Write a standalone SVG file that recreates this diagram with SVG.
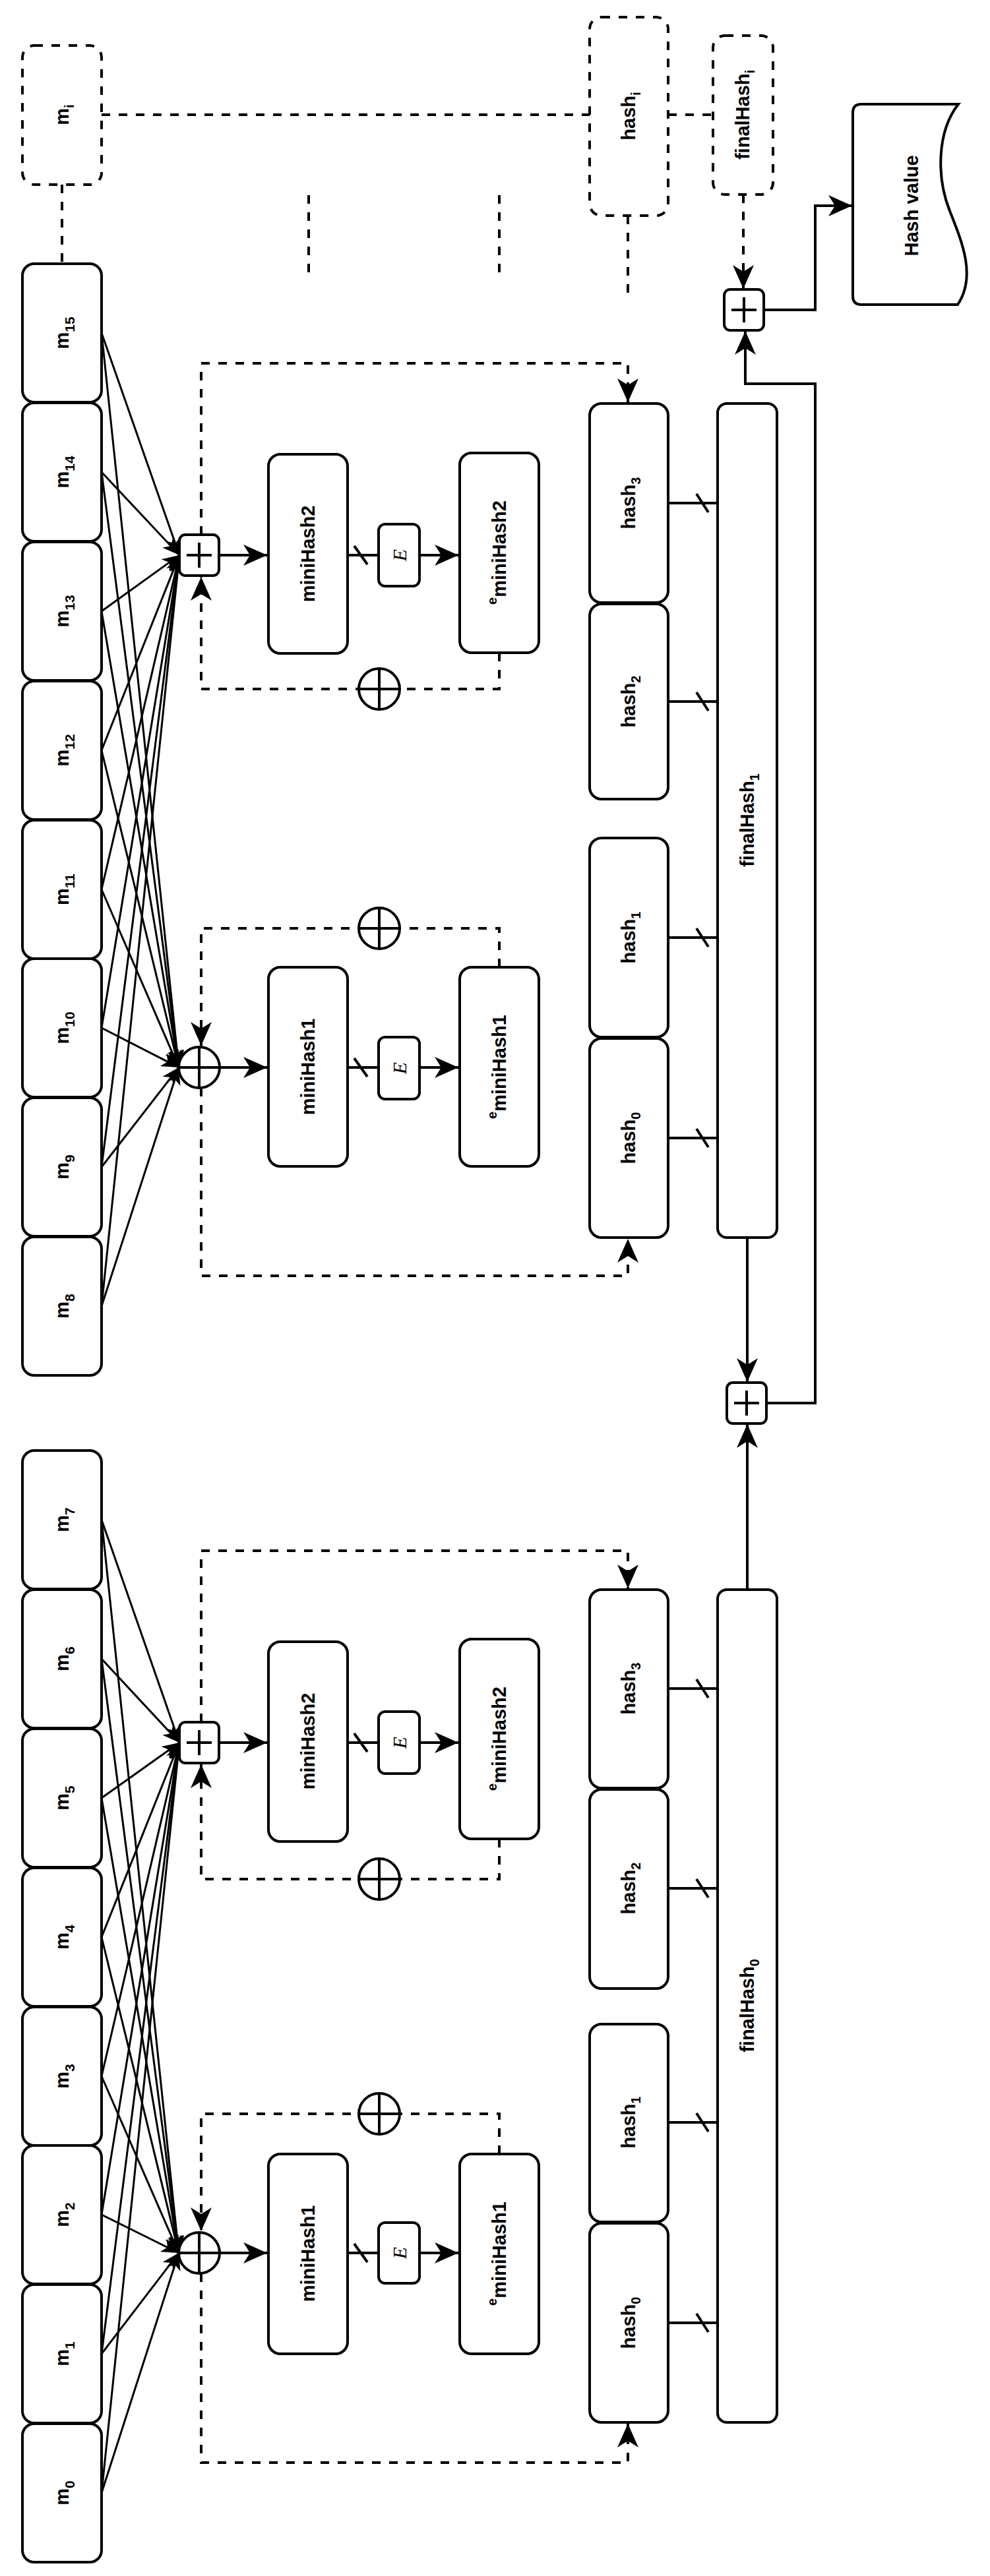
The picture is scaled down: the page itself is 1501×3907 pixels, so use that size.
<svg xmlns="http://www.w3.org/2000/svg" width="1501" height="3907" viewBox="0 0 1501 3907">
<style>
.b{fill:#fff;stroke:#000;stroke-width:4}
.d{fill:#fff;stroke:#000;stroke-width:4;stroke-dasharray:13 13}
.l{fill:none;stroke:#000;stroke-width:4}
.ld{fill:none;stroke:#000;stroke-width:4;stroke-dasharray:13 13}
.f{fill:none;stroke:#000;stroke-width:3}
.t{font-family:"Liberation Sans",Arial,sans-serif;font-weight:bold;font-size:29px;fill:#000}
.e{font-family:"Liberation Serif","Times New Roman",serif;font-style:italic;font-size:30px;fill:#000}
</style>
<defs>
<marker id="a" markerUnits="userSpaceOnUse" markerWidth="40" markerHeight="40" viewBox="-38 -20 40 40" refX="0" refY="0" orient="auto"><path d="M0,0 L-36,-16 L-26,0 L-36,16 Z" fill="#000"/></marker>
<marker id="s" markerUnits="userSpaceOnUse" markerWidth="30" markerHeight="30" viewBox="-28 -14 30 28" refX="0" refY="0" orient="auto"><path d="M0,0 L-26,-11 L-19,0 L-26,11 Z" fill="#000"/></marker>
<g id="plus"><rect x="-30" y="-31" width="60" height="62" rx="9" class="b"/><path d="M-19,0 H19 M0,-19 V19" class="l"/></g>
<g id="oplus"><circle r="31" class="b"/><path d="M-31,0 H31 M0,-31 V31" class="l"/></g>
</defs>

<g id="connectors">
<!-- fan-in upper -->
<g class="f" marker-end="url(#s)">
<path d="M154,505 L272,842"/><path d="M154,505 L271,1619"/>
<path d="M154,716 L272,842"/><path d="M154,716 L271,1619"/>
<path d="M154,927 L272,842"/><path d="M154,927 L271,1619"/>
<path d="M154,1138 L272,842"/><path d="M154,1138 L271,1619"/>
<path d="M154,1349 L272,842"/><path d="M154,1349 L271,1619"/>
<path d="M154,1559 L272,842"/><path d="M154,1559 L271,1619"/>
<path d="M154,1770 L272,842"/><path d="M154,1770 L271,1619"/>
<path d="M154,1981 L272,842"/><path d="M154,1981 L271,1619"/>
<!-- fan-in lower -->
<path d="M154,2305 L272,2643"/><path d="M154,2305 L271,3417"/>
<path d="M154,2516 L272,2643"/><path d="M154,2516 L271,3417"/>
<path d="M154,2727 L272,2643"/><path d="M154,2727 L271,3417"/>
<path d="M154,2938 L272,2643"/><path d="M154,2938 L271,3417"/>
<path d="M154,3149 L272,2643"/><path d="M154,3149 L271,3417"/>
<path d="M154,3359 L272,2643"/><path d="M154,3359 L271,3417"/>
<path d="M154,3570 L272,2643"/><path d="M154,3570 L271,3417"/>
<path d="M154,3781 L272,2643"/><path d="M154,3781 L271,3417"/>
</g>

<!-- top dashed -->
<path class="ld" d="M154,174 H894 M1013,174 H1081 M94,280 V400 M468,296 V417 M757,296 V417 M952,327 V449"/>
<path class="ld" d="M1127,295 V438" marker-end="url(#a)"/>
<path class="l" d="M1158,470 H1236 V312 H1292" marker-end="url(#a)"/>

<!-- upper stage 2 -->
<path class="ld" d="M305,811 V551 H952 V610" marker-end="url(#a)"/>
<path class="ld" d="M757,990 V1045 H305 V875" marker-end="url(#a)"/>
<path class="l" d="M332,842 H405" marker-end="url(#a)"/>
<path class="l" d="M527,842 H574 M636,842 H695" marker-end="url(#a)"/>
<path class="l" d="M537,828 L557,856"/>
<!-- upper stage 1 -->
<path class="ld" d="M757,1467 V1408 H305 V1586" marker-end="url(#a)"/>
<path class="ld" d="M305,1650 V1935 H952 V1879" marker-end="url(#a)"/>
<path class="l" d="M333,1619 H405" marker-end="url(#a)"/>
<path class="l" d="M527,1619 H574 M636,1619 H695" marker-end="url(#a)"/>
<path class="l" d="M537,1605 L557,1633"/>
<!-- upper hash connectors -->
<path class="l" d="M1013,763 H1088 M1013,1064 H1088 M1013,1422 H1088 M1013,1726 H1088"/>
<path class="l" d="M1056,749 L1074,777 M1056,1050 L1074,1078 M1056,1408 L1074,1436 M1056,1712 L1074,1740"/>
<path class="l" d="M1133,1877 V2096" marker-end="url(#a)"/>
<path class="l" d="M1162,2128 H1236 V582 H1130 V502" marker-end="url(#a)"/>

<!-- lower stage 2 -->
<path class="ld" d="M305,2612 V2352 H952 V2409" marker-end="url(#a)"/>
<path class="ld" d="M757,2789 V2850 H305 V2676" marker-end="url(#a)"/>
<path class="l" d="M332,2643 H405" marker-end="url(#a)"/>
<path class="l" d="M527,2643 H574 M636,2643 H695" marker-end="url(#a)"/>
<path class="l" d="M537,2629 L557,2657"/>
<!-- lower stage 1 -->
<path class="ld" d="M757,3267 V3206 H305 V3384" marker-end="url(#a)"/>
<path class="ld" d="M305,3448 V3735 H952 V3676" marker-end="url(#a)"/>
<path class="l" d="M333,3417 H405" marker-end="url(#a)"/>
<path class="l" d="M527,3417 H574 M636,3417 H695" marker-end="url(#a)"/>
<path class="l" d="M537,3403 L557,3431"/>
<path class="l" d="M1013,2561 H1088 M1013,2864 H1088 M1013,3219 H1088 M1013,3523 H1088"/>
<path class="l" d="M1056,2547 L1074,2575 M1056,2850 L1074,2878 M1056,3205 L1074,3233 M1056,3509 L1074,3537"/>
<path class="l" d="M1133,2411 V2160" marker-end="url(#a)"/>
</g>

<!-- top legend nodes -->
<g id="m_i"><rect x="34" y="69" width="120" height="211" rx="18" class="d"/><text class="t" transform="translate(94,174) rotate(-90)" text-anchor="middle" dominant-baseline="central">m<tspan font-size="20" baseline-shift="sub">i</tspan></text></g>
<g id="hash_i"><rect x="894" y="26" width="119" height="301" rx="18" class="d"/><text class="t" transform="translate(953,176) rotate(-90)" text-anchor="middle" dominant-baseline="central">hash<tspan font-size="20" baseline-shift="sub">i</tspan></text></g>
<g id="finalHash_i"><rect x="1081" y="54" width="91" height="241" rx="18" class="d"/><text class="t" transform="translate(1126,174) rotate(-90)" text-anchor="middle" dominant-baseline="central">finalHash<tspan font-size="20" baseline-shift="sub">i</tspan></text></g>
<g id="finalPlus"><use href="#plus" x="1128" y="470"/></g>
<g id="hashValue"><path class="b" d="M1306,158 H1453 C1420,200 1420,270 1440,320 C1460,370 1480,420 1452,462 H1306 Q1293,462 1293,449 V171 Q1293,158 1306,158 Z"/><text class="t" transform="translate(1382,312) rotate(-90)" text-anchor="middle" dominant-baseline="central">Hash value</text></g>

<!-- m boxes -->
<g id="m15"><rect x="34" y="400" width="120" height="210" rx="18" class="b"/><text class="t" transform="translate(94,505) rotate(-90)" text-anchor="middle" dominant-baseline="central">m<tspan font-size="21" baseline-shift="sub">15</tspan></text></g>
<g id="m14"><rect x="34" y="611" width="120" height="210" rx="18" class="b"/><text class="t" transform="translate(94,716) rotate(-90)" text-anchor="middle" dominant-baseline="central">m<tspan font-size="21" baseline-shift="sub">14</tspan></text></g>
<g id="m13"><rect x="34" y="822" width="120" height="210" rx="18" class="b"/><text class="t" transform="translate(94,927) rotate(-90)" text-anchor="middle" dominant-baseline="central">m<tspan font-size="21" baseline-shift="sub">13</tspan></text></g>
<g id="m12"><rect x="34" y="1033" width="120" height="210" rx="18" class="b"/><text class="t" transform="translate(94,1138) rotate(-90)" text-anchor="middle" dominant-baseline="central">m<tspan font-size="21" baseline-shift="sub">12</tspan></text></g>
<g id="m11"><rect x="34" y="1244" width="120" height="210" rx="18" class="b"/><text class="t" transform="translate(94,1349) rotate(-90)" text-anchor="middle" dominant-baseline="central">m<tspan font-size="21" baseline-shift="sub">11</tspan></text></g>
<g id="m10"><rect x="34" y="1454" width="120" height="210" rx="18" class="b"/><text class="t" transform="translate(94,1559) rotate(-90)" text-anchor="middle" dominant-baseline="central">m<tspan font-size="21" baseline-shift="sub">10</tspan></text></g>
<g id="m9"><rect x="34" y="1665" width="120" height="210" rx="18" class="b"/><text class="t" transform="translate(94,1770) rotate(-90)" text-anchor="middle" dominant-baseline="central">m<tspan font-size="21" baseline-shift="sub">9</tspan></text></g>
<g id="m8"><rect x="34" y="1876" width="120" height="210" rx="18" class="b"/><text class="t" transform="translate(94,1981) rotate(-90)" text-anchor="middle" dominant-baseline="central">m<tspan font-size="21" baseline-shift="sub">8</tspan></text></g>
<g id="m7"><rect x="34" y="2200" width="120" height="210" rx="18" class="b"/><text class="t" transform="translate(94,2305) rotate(-90)" text-anchor="middle" dominant-baseline="central">m<tspan font-size="21" baseline-shift="sub">7</tspan></text></g>
<g id="m6"><rect x="34" y="2411" width="120" height="210" rx="18" class="b"/><text class="t" transform="translate(94,2516) rotate(-90)" text-anchor="middle" dominant-baseline="central">m<tspan font-size="21" baseline-shift="sub">6</tspan></text></g>
<g id="m5"><rect x="34" y="2622" width="120" height="210" rx="18" class="b"/><text class="t" transform="translate(94,2727) rotate(-90)" text-anchor="middle" dominant-baseline="central">m<tspan font-size="21" baseline-shift="sub">5</tspan></text></g>
<g id="m4"><rect x="34" y="2833" width="120" height="210" rx="18" class="b"/><text class="t" transform="translate(94,2938) rotate(-90)" text-anchor="middle" dominant-baseline="central">m<tspan font-size="21" baseline-shift="sub">4</tspan></text></g>
<g id="m3"><rect x="34" y="3044" width="120" height="210" rx="18" class="b"/><text class="t" transform="translate(94,3149) rotate(-90)" text-anchor="middle" dominant-baseline="central">m<tspan font-size="21" baseline-shift="sub">3</tspan></text></g>
<g id="m2"><rect x="34" y="3254" width="120" height="210" rx="18" class="b"/><text class="t" transform="translate(94,3359) rotate(-90)" text-anchor="middle" dominant-baseline="central">m<tspan font-size="21" baseline-shift="sub">2</tspan></text></g>
<g id="m1"><rect x="34" y="3465" width="120" height="210" rx="18" class="b"/><text class="t" transform="translate(94,3570) rotate(-90)" text-anchor="middle" dominant-baseline="central">m<tspan font-size="21" baseline-shift="sub">1</tspan></text></g>
<g id="m0"><rect x="34" y="3676" width="120" height="210" rx="18" class="b"/><text class="t" transform="translate(94,3781) rotate(-90)" text-anchor="middle" dominant-baseline="central">m<tspan font-size="21" baseline-shift="sub">0</tspan></text></g>

<!-- upper block -->
<g id="u_add2"><use href="#plus" x="302" y="842"/></g>
<g id="u_add1"><circle cx="302" cy="1619" r="31" class="b"/><path class="l" d="M271,1619 H333 M302,1588 V1650"/></g>
<g id="u_mini2"><rect x="407" y="689" width="120" height="302" rx="18" class="b"/><text class="t" transform="translate(467,840) rotate(-90)" text-anchor="middle" dominant-baseline="central">miniHash2</text></g>
<g id="u_E2"><rect x="574" y="795" width="62" height="94" rx="10" class="b"/><text class="e" transform="translate(605,842) rotate(-90)" text-anchor="middle" dominant-baseline="central">E</text></g>
<g id="u_emini2"><rect x="697" y="687" width="120" height="303" rx="18" class="b"/><text class="t" transform="translate(757,838) rotate(-90)" text-anchor="middle" dominant-baseline="central"><tspan font-size="20" baseline-shift="super">e</tspan>miniHash2</text></g>
<g id="u_xor2"><use href="#oplus" x="575" y="1045"/></g>
<g id="u_mini1"><rect x="407" y="1467" width="120" height="302" rx="18" class="b"/><text class="t" transform="translate(467,1618) rotate(-90)" text-anchor="middle" dominant-baseline="central">miniHash1</text></g>
<g id="u_E1"><rect x="574" y="1573" width="62" height="94" rx="10" class="b"/><text class="e" transform="translate(605,1620) rotate(-90)" text-anchor="middle" dominant-baseline="central">E</text></g>
<g id="u_emini1"><rect x="697" y="1467" width="120" height="302" rx="18" class="b"/><text class="t" transform="translate(757,1618) rotate(-90)" text-anchor="middle" dominant-baseline="central"><tspan font-size="20" baseline-shift="super">e</tspan>miniHash1</text></g>
<g id="u_xor1"><use href="#oplus" x="575" y="1408"/></g>
<g id="u_hash3"><rect x="894" y="612" width="119" height="302" rx="18" class="b"/><text class="t" transform="translate(953,763) rotate(-90)" text-anchor="middle" dominant-baseline="central">hash<tspan font-size="20" baseline-shift="sub">3</tspan></text></g>
<g id="u_hash2"><rect x="894" y="916" width="119" height="296" rx="18" class="b"/><text class="t" transform="translate(953,1064) rotate(-90)" text-anchor="middle" dominant-baseline="central">hash<tspan font-size="20" baseline-shift="sub">2</tspan></text></g>
<g id="u_hash1"><rect x="894" y="1271" width="119" height="302" rx="18" class="b"/><text class="t" transform="translate(953,1422) rotate(-90)" text-anchor="middle" dominant-baseline="central">hash<tspan font-size="20" baseline-shift="sub">1</tspan></text></g>
<g id="u_hash0"><rect x="894" y="1575" width="119" height="302" rx="18" class="b"/><text class="t" transform="translate(953,1726) rotate(-90)" text-anchor="middle" dominant-baseline="central">hash<tspan font-size="20" baseline-shift="sub">0</tspan></text></g>
<g id="finalHash1"><rect x="1088" y="612" width="90" height="1265" rx="14" class="b"/><text class="t" transform="translate(1133,1244) rotate(-90)" text-anchor="middle" dominant-baseline="central">finalHash<tspan font-size="20" baseline-shift="sub">1</tspan></text></g>
<g id="midPlus"><use href="#plus" x="1132" y="2128"/></g>

<!-- lower block -->
<g id="l_add2"><use href="#plus" x="302" y="2643"/></g>
<g id="l_add1"><circle cx="302" cy="3417" r="31" class="b"/><path class="l" d="M271,3417 H333 M302,3386 V3448"/></g>
<g id="l_mini2"><rect x="407" y="2490" width="120" height="303" rx="18" class="b"/><text class="t" transform="translate(467,2641) rotate(-90)" text-anchor="middle" dominant-baseline="central">miniHash2</text></g>
<g id="l_E2"><rect x="574" y="2596" width="62" height="94" rx="10" class="b"/><text class="e" transform="translate(605,2643) rotate(-90)" text-anchor="middle" dominant-baseline="central">E</text></g>
<g id="l_emini2"><rect x="697" y="2486" width="120" height="303" rx="18" class="b"/><text class="t" transform="translate(757,2637) rotate(-90)" text-anchor="middle" dominant-baseline="central"><tspan font-size="20" baseline-shift="super">e</tspan>miniHash2</text></g>
<g id="l_xor2"><use href="#oplus" x="575" y="2850"/></g>
<g id="l_mini1"><rect x="407" y="3267" width="120" height="303" rx="18" class="b"/><text class="t" transform="translate(467,3418) rotate(-90)" text-anchor="middle" dominant-baseline="central">miniHash1</text></g>
<g id="l_E1"><rect x="574" y="3371" width="62" height="92" rx="10" class="b"/><text class="e" transform="translate(605,3417) rotate(-90)" text-anchor="middle" dominant-baseline="central">E</text></g>
<g id="l_emini1"><rect x="697" y="3267" width="120" height="303" rx="18" class="b"/><text class="t" transform="translate(757,3418) rotate(-90)" text-anchor="middle" dominant-baseline="central"><tspan font-size="20" baseline-shift="super">e</tspan>miniHash1</text></g>
<g id="l_xor1"><use href="#oplus" x="575" y="3206"/></g>
<g id="l_hash3"><rect x="894" y="2411" width="119" height="301" rx="18" class="b"/><text class="t" transform="translate(953,2561) rotate(-90)" text-anchor="middle" dominant-baseline="central">hash<tspan font-size="20" baseline-shift="sub">3</tspan></text></g>
<g id="l_hash2"><rect x="894" y="2714" width="119" height="302" rx="18" class="b"/><text class="t" transform="translate(953,2864) rotate(-90)" text-anchor="middle" dominant-baseline="central">hash<tspan font-size="20" baseline-shift="sub">2</tspan></text></g>
<g id="l_hash1"><rect x="894" y="3070" width="119" height="300" rx="18" class="b"/><text class="t" transform="translate(953,3219) rotate(-90)" text-anchor="middle" dominant-baseline="central">hash<tspan font-size="20" baseline-shift="sub">1</tspan></text></g>
<g id="l_hash0"><rect x="894" y="3372" width="119" height="302" rx="18" class="b"/><text class="t" transform="translate(953,3523) rotate(-90)" text-anchor="middle" dominant-baseline="central">hash<tspan font-size="20" baseline-shift="sub">0</tspan></text></g>
<g id="finalHash0"><rect x="1088" y="2411" width="90" height="1263" rx="14" class="b"/><text class="t" transform="translate(1133,3042) rotate(-90)" text-anchor="middle" dominant-baseline="central">finalHash<tspan font-size="20" baseline-shift="sub">0</tspan></text></g>
</svg>
